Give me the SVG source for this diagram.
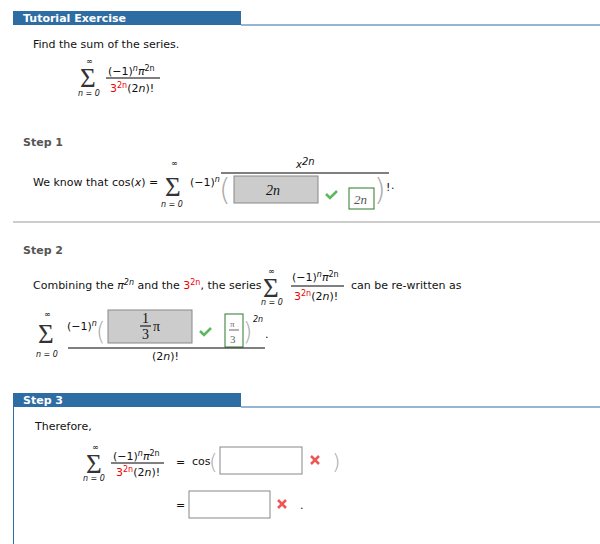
<svg xmlns="http://www.w3.org/2000/svg" width="600" height="544" viewBox="0 0 600 544">
<style>
text{font-family:Verdana,"DejaVu Sans",sans-serif;font-size:11px;fill:#111}
.s{font-size:8px}
.i{font-style:italic}
.r{fill:#e00}
.b{font-weight:bold;fill:#fff;font-size:11px}
.st{font-weight:bold;fill:#555;font-size:11px}
.sig{font-family:"Liberation Serif",serif;font-size:27px;fill:#333}
.ser{font-family:"Liberation Serif",serif}
.bar{fill:#2e6da4}
.ln{stroke:#2e6da4;stroke-width:1}
.fr{stroke:#000;stroke-width:1}
.gb{fill:#ccc;stroke:#888}
.wb{fill:#fff;stroke:#888}
.gf{fill:none;stroke:#2a7a2a}
.chk{fill:none;stroke:#5cb85c;stroke-width:2.5}
.x{stroke:#e55;stroke-width:2.5}
.par{font-family:"DejaVu Sans",sans-serif;font-size:30px;fill:#aaa;font-weight:200}
</style>
<rect width="600" height="544" fill="#fff"/>
<g id="header">
<rect class="bar" x="13" y="11" width="228" height="14"/>
<line class="ln" x1="241" y1="25" x2="600" y2="25"/>
<text class="b" x="23" y="22">Tutorial Exercise</text>
</g>
<g id="problem">
<text x="33" y="48">Find the sum of the series.</text>
<text class="s" x="86" y="64">∞</text>
<text class="sig" x="80" y="87">Σ</text>
<text class="s i" x="78" y="96">n = 0</text>
<text x="108" y="75">(−1)<tspan class="s i" dy="-4">n</tspan><tspan class="i" dy="4">π</tspan><tspan class="s" dy="-4">2n</tspan></text>
<line class="fr" x1="106" y1="78" x2="160" y2="78"/>
<text x="110" y="92"><tspan class="r">3</tspan><tspan class="s r" dy="-4">2n</tspan><tspan dy="4">(2</tspan><tspan class="i">n</tspan>)!</text>
</g>
<g id="step1">
<text class="st" x="23" y="146">Step 1</text>
<text x="33" y="186">We know that  cos(<tspan class="i">x</tspan>)  =</text>
<text class="s" x="171" y="166">∞</text>
<text class="sig" x="165" y="196">Σ</text>
<text class="s i" x="161" y="207">n = 0</text>
<text x="190" y="186">(−1)<tspan class="s i" dy="-4">n</tspan></text>
<text class="s i" x="296" y="168" style="font-size:10px">x<tspan dy="-3">2n</tspan></text>
<line class="fr" x1="221" y1="173" x2="389" y2="173"/>
<text class="par" x="219" y="200">(</text>
<rect class="gb" x="234" y="176" width="84" height="27"/>
<text class="ser i" x="266" y="195" style="font-size:14px">2n</text>
<path class="chk" d="M326 194l4 4 7-7"/>
<rect class="gf" x="349" y="188" width="25" height="21"/>
<text class="ser i" x="354" y="204" style="font-size:13px;fill:#555">2n</text>
<text class="par" x="374" y="200">)</text>
<text x="386" y="191">!</text>
<text x="391" y="189">.</text>
</g>
<line x1="13" y1="222" x2="600" y2="222" stroke="#999"/>
<g id="step2">
<text class="st" x="23" y="254">Step 2</text>
<text x="33" y="289">Combining the <tspan class="i">π</tspan><tspan class="s i" dy="-4">2n</tspan><tspan dy="4"> and the </tspan><tspan class="r">3</tspan><tspan class="s r" dy="-4">2n</tspan><tspan dy="4">, the series</tspan></text>
<text class="s" x="268" y="274">∞</text>
<text class="sig" x="263" y="297">Σ</text>
<text class="s i" x="261" y="305">n = 0</text>
<text x="292" y="281">(−1)<tspan class="s i" dy="-4">n</tspan><tspan class="i" dy="4">π</tspan><tspan class="s" dy="-4">2n</tspan></text>
<line class="fr" x1="291" y1="286" x2="344" y2="286"/>
<text x="294" y="300"><tspan class="r">3</tspan><tspan class="s r" dy="-4">2n</tspan><tspan dy="4">(2</tspan><tspan class="i">n</tspan>)!</text>
<text x="351" y="289">can be re-written as</text>
<text class="s" x="44" y="317">∞</text>
<text class="sig" x="38" y="343">Σ</text>
<text class="s i" x="36" y="357">n = 0</text>
<text x="67" y="330">(−1)<tspan class="s i" dy="-4">n</tspan></text>
<text class="par" x="96" y="340" style="font-size:24px">(</text>
<rect class="gb" x="108" y="310" width="84" height="33"/>
<text class="ser" x="142" y="323" style="font-size:14px">1</text>
<line class="fr" x1="140" y1="326" x2="151" y2="326"/>
<text class="ser" x="142" y="339" style="font-size:14px">3</text>
<text class="ser" x="153" y="331" style="font-size:14px">π</text>
<path class="chk" d="M200 331l4 4 7-7"/>
<rect class="gf" x="225" y="314" width="18" height="33"/>
<text class="ser" x="230" y="327" style="font-size:9px;fill:#666">π</text>
<line x1="229" y1="330" x2="239" y2="330" stroke="#666"/>
<text class="ser" x="230" y="343" style="font-size:11px;fill:#666">3</text>
<text class="par" x="243" y="340" style="font-size:24px">)</text>
<text class="s i" x="253" y="322">2n</text>
<text x="265" y="338">.</text>
<line class="fr" x1="68" y1="348" x2="265" y2="348"/>
<text x="152" y="360">(2<tspan class="i">n</tspan>)!</text>
</g>
<g id="step3">
<rect class="bar" x="13" y="393" width="228" height="14"/>
<line class="ln" x1="241" y1="407" x2="600" y2="407"/>
<line class="ln" x1="13.5" y1="407" x2="13.5" y2="544"/>
<text class="b" x="23" y="404">Step 3</text>
<text x="35" y="430">Therefore,</text>
<text class="s" x="92" y="450">∞</text>
<text class="sig" x="86" y="473">Σ</text>
<text class="s i" x="83" y="481">n = 0</text>
<text x="113" y="460">(−1)<tspan class="s i" dy="-4">n</tspan><tspan class="i" dy="4">π</tspan><tspan class="s" dy="-4">2n</tspan></text>
<line class="fr" x1="111" y1="463" x2="164" y2="463"/>
<text x="116" y="476"><tspan class="r">3</tspan><tspan class="s r" dy="-4">2n</tspan><tspan dy="4">(2</tspan><tspan class="i">n</tspan>)!</text>
<text x="176" y="466">=</text>
<text x="192" y="465">cos</text>
<text class="par" x="209" y="469" style="font-size:22px">(</text>
<rect class="wb" x="220" y="447" width="82" height="27"/>
<path class="x" d="M311 456l8 8M319 456l-8 8"/>
<text class="par" x="332" y="469" style="font-size:22px">)</text>
<text x="176" y="509">=</text>
<rect class="wb" x="189" y="491" width="81" height="27"/>
<path class="x" d="M278 500l8 8M286 500l-8 8"/>
<text x="300" y="509">.</text>
</g>
</svg>
